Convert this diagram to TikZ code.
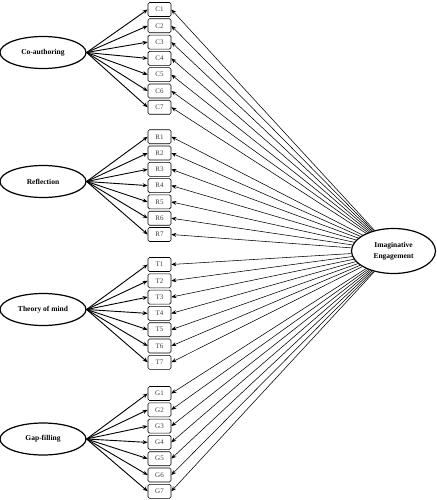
\documentclass[tikz,border=0pt]{standalone}
\usepackage{fontspec}
\setmainfont{Liberation Serif}
\usetikzlibrary{shapes.geometric,arrows.meta}
\begin{document}
\begin{tikzpicture}[x=1pt,y=-1pt,
  latent/.style={draw,ellipse,line width=1.2pt,inner sep=0pt,minimum width=86pt,minimum height=32pt,font=\fontsize{7.5}{9}\selectfont\bfseries},
  item/.style={draw,rectangle,rounded corners=1.5pt,line width=0.6pt,minimum width=23pt,minimum height=14pt,inner sep=0pt,font=\fontsize{7}{8}\selectfont,text=black!75},
  load/.style={line width=0.9pt,-{Stealth[length=5pt,width=4pt]}},
  ieload/.style={line width=0.55pt,-{Stealth[length=5pt,width=4pt]}}]
\useasboundingbox (0,0) rectangle (436,500);
\node[latent] (Co) at (43,52.5) {Co-authoring};
\node[latent] (Re) at (43,181.5) {Reflection};
\node[latent] (Th) at (43,309.5) {Theory of mind};
\node[latent] (Ga) at (43,439) {Gap-filling};
\node[draw,ellipse,line width=1.2pt,inner sep=0pt,minimum width=84pt,minimum height=45pt,align=center,font=\fontsize{7.5}{10.5}\selectfont\bfseries] (IE) at (393.5,251) {Imaginative\\Engagement};
\foreach \L/\Y/\P in {C/9.5/Co,R/136.7/Re,T/264.5/Th,G/393.5/Ga}{
  \foreach \i in {1,...,7}{
    \node[item] (\L\i) at (159.5,\Y+16.3*\i-16.3) {\L\i};
    \draw[load] (\P.east) -- (\L\i.west);
    \draw[ieload] (IE) -- (\L\i.east);
  }
}
\end{tikzpicture}
\end{document}
